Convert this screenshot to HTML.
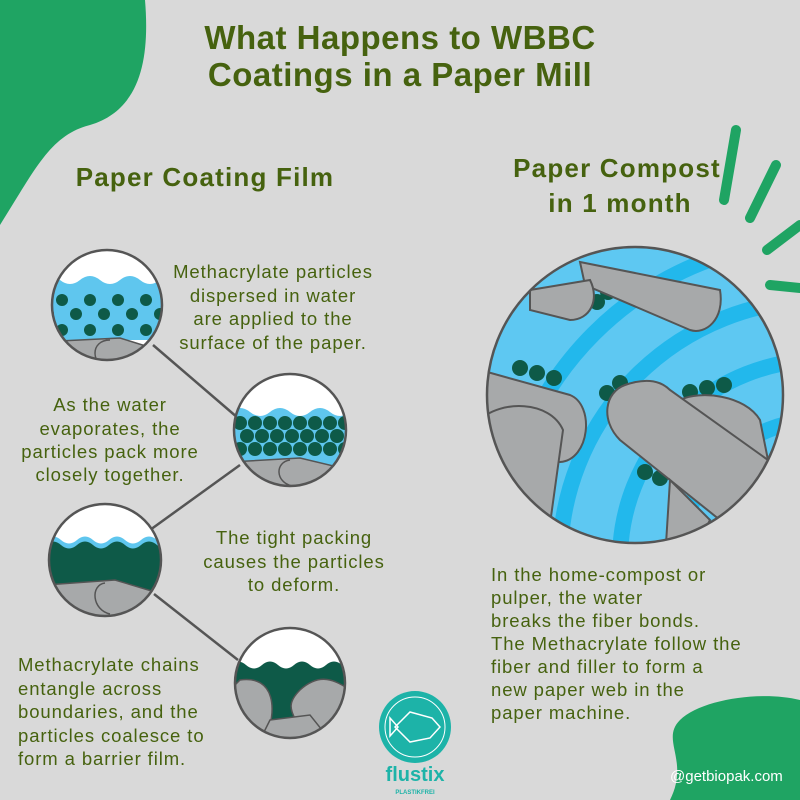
<!DOCTYPE html>
<html><head><meta charset="utf-8"><style>
html,body{margin:0;width:800px;height:800px;background:#d9d9d9;overflow:hidden}
svg{display:block}
text{font-family:"Liberation Sans",sans-serif;fill:#46620f}
.t{font-size:18.5px;letter-spacing:0.9px}
.h{font-weight:bold}
</style></head><body>
<svg width="800" height="800" viewBox="0 0 800 800">
<defs>
<clipPath id="c1"><circle cx="107" cy="305" r="55"/></clipPath>
<clipPath id="c2"><circle cx="290" cy="430" r="56"/></clipPath>
<clipPath id="c3"><circle cx="105" cy="560" r="56"/></clipPath>
<clipPath id="c4"><circle cx="290" cy="683" r="55"/></clipPath>
<clipPath id="cb"><circle cx="635" cy="395" r="148"/></clipPath>
</defs>
<path d="M0 0 L145 0 C150 60 140 110 90 125 C50 135 35 170 0 225 Z" fill="#1fa463"/>
<path d="M800 700 C760 690 700 700 680 720 C660 740 690 760 670 800 L800 800 Z" fill="#1fa463"/>
<g stroke="#1fa463" stroke-width="10" stroke-linecap="round">
<line x1="736" y1="130" x2="724" y2="200"/>
<line x1="776" y1="165" x2="750" y2="218"/>
<line x1="800" y1="225" x2="767" y2="250"/>
<line x1="800" y1="288" x2="770" y2="285"/>
</g>
<text x="400" y="49" text-anchor="middle" class="h" font-size="33" letter-spacing="0.5">What Happens to WBBC</text>
<text x="400" y="86" text-anchor="middle" class="h" font-size="33" letter-spacing="0.5">Coatings in a Paper Mill</text>
<text x="205" y="186" text-anchor="middle" class="h" font-size="26" letter-spacing="1.2">Paper Coating Film</text>
<text x="617" y="177" text-anchor="middle" class="h" font-size="26" letter-spacing="1.2">Paper Compost</text>
<text x="620" y="212" text-anchor="middle" class="h" font-size="26" letter-spacing="1.2">in 1 month</text>
<g stroke="#555" stroke-width="2.5">
<line x1="153" y1="345" x2="238" y2="418"/>
<line x1="240" y1="465" x2="150" y2="530"/>
<line x1="154" y1="594" x2="238" y2="660"/>
</g>
<g clip-path="url(#c1)">
<rect x="40" y="240" width="140" height="140" fill="#fff"/>
<path d="M40 280 q10 -8 20 0 t20 0 t20 0 t20 0 t20 0 t20 0 t20 0 V340 H40Z" fill="#5fc6ee"/>
<g fill="#0e5a48">
<circle cx="62" cy="300" r="6"/><circle cx="90" cy="300" r="6"/><circle cx="118" cy="300" r="6"/><circle cx="146" cy="300" r="6"/>
<circle cx="48" cy="314" r="6"/><circle cx="76" cy="314" r="6"/><circle cx="104" cy="314" r="6"/><circle cx="132" cy="314" r="6"/><circle cx="160" cy="314" r="6"/>
<circle cx="62" cy="330" r="6"/><circle cx="90" cy="330" r="6"/><circle cx="118" cy="330" r="6"/><circle cx="146" cy="330" r="6"/>
</g>
<path d="M40 342 L120 338 L165 352 V380 H40Z" fill="#a7a9aa" stroke="#555" stroke-width="1.5"/>
<path d="M110 340 C90 340 90 365 110 370 L160 375" fill="#a7a9aa" stroke="#555" stroke-width="1.5"/>
</g>
<circle cx="107" cy="305" r="55" fill="none" stroke="#555" stroke-width="2.5"/>
<g clip-path="url(#c2)">
<rect x="230" y="370" width="120" height="120" fill="#fff"/>
<path d="M230 412 q10 -8 20 0 t20 0 t20 0 t20 0 t20 0 t20 0 V470 H230Z" fill="#5fc6ee"/>
<g fill="#0e5a48">
<circle cx="240" cy="423" r="7"/><circle cx="255" cy="423" r="7"/><circle cx="270" cy="423" r="7"/><circle cx="285" cy="423" r="7"/><circle cx="300" cy="423" r="7"/><circle cx="315" cy="423" r="7"/><circle cx="330" cy="423" r="7"/><circle cx="345" cy="423" r="7"/>
<circle cx="247" cy="436" r="7"/><circle cx="262" cy="436" r="7"/><circle cx="277" cy="436" r="7"/><circle cx="292" cy="436" r="7"/><circle cx="307" cy="436" r="7"/><circle cx="322" cy="436" r="7"/><circle cx="337" cy="436" r="7"/>
<circle cx="240" cy="449" r="7"/><circle cx="255" cy="449" r="7"/><circle cx="270" cy="449" r="7"/><circle cx="285" cy="449" r="7"/><circle cx="300" cy="449" r="7"/><circle cx="315" cy="449" r="7"/><circle cx="330" cy="449" r="7"/><circle cx="345" cy="449" r="7"/>
</g>
<path d="M230 462 L300 458 L350 470 V490 H230Z" fill="#a7a9aa" stroke="#555" stroke-width="1.5"/>
<path d="M290 460 C275 462 275 482 292 486" fill="none" stroke="#555" stroke-width="1.5"/>
</g>
<circle cx="290" cy="430" r="56" fill="none" stroke="#555" stroke-width="2.5"/>
<g clip-path="url(#c3)">
<rect x="45" y="500" width="120" height="120" fill="#fff"/>
<path d="M45 540 q8 -7 16 0 t16 0 t16 0 t16 0 t16 0 t16 0 t16 0 t16 0 V560 H45Z" fill="#5fc6ee"/>
<path d="M45 545 q8 -7 16 0 t16 0 t16 0 t16 0 t16 0 t16 0 t16 0 t16 0 V600 H45Z" fill="#0e5a48"/>
<path d="M45 585 L115 580 L165 595 V620 H45Z" fill="#a7a9aa" stroke="#555" stroke-width="1.5"/>
<path d="M105 583 C90 585 92 610 110 614" fill="none" stroke="#555" stroke-width="1.5"/>
</g>
<circle cx="105" cy="560" r="56" fill="none" stroke="#555" stroke-width="2.5"/>
<g clip-path="url(#c4)">
<rect x="230" y="625" width="120" height="120" fill="#fff"/>
<path d="M230 665 q8 -7 16 0 t16 0 t16 0 t16 0 t16 0 t16 0 t16 0 t16 0 V740 H230Z" fill="#0e5a48"/>
<path d="M240 680 C275 675 278 710 265 740 L230 740 V690Z" fill="#a7a9aa" stroke="#555" stroke-width="1.5"/>
<path d="M300 690 C320 672 335 680 350 690 V740 L300 740 C300 715 280 710 300 690Z" fill="#a7a9aa" stroke="#555" stroke-width="1.5"/>
<path d="M270 720 L310 715 L330 740 L260 740Z" fill="#a7a9aa" stroke="#555" stroke-width="1.5"/>
</g>
<circle cx="290" cy="683" r="55" fill="none" stroke="#555" stroke-width="2.5"/>
<g clip-path="url(#cb)">
<rect x="480" y="240" width="310" height="310" fill="#5ec8f2"/>
<g fill="none" stroke="#22b8ec" stroke-width="16">
<circle cx="820" cy="560" r="140"/><circle cx="820" cy="560" r="200"/><circle cx="820" cy="560" r="260"/><circle cx="820" cy="560" r="320"/>
</g>
<g fill="#0e5a48">
<circle cx="520" cy="368" r="8"/><circle cx="537" cy="373" r="8"/><circle cx="554" cy="378" r="8"/>
<circle cx="607" cy="393" r="8"/><circle cx="620" cy="383" r="8"/>
<circle cx="690" cy="392" r="8"/><circle cx="707" cy="388" r="8"/><circle cx="724" cy="385" r="8"/>
<circle cx="597" cy="302" r="8"/><circle cx="608" cy="292" r="8"/>
<circle cx="645" cy="472" r="8"/><circle cx="660" cy="478" r="8"/>
</g>
<path d="M580 262 L720 290 C725 320 705 335 690 330 L585 285Z" fill="#a7a9aa" stroke="#555" stroke-width="2"/>
<path d="M530 290 L590 280 C600 300 590 320 570 320 L530 310Z" fill="#a7a9aa" stroke="#555" stroke-width="2"/>
<path d="M480 370 L570 395 C595 405 590 460 560 462 L480 450Z" fill="#a7a9aa" stroke="#555" stroke-width="2"/>
<path d="M480 420 C500 400 550 400 563 430 L545 560 L480 560Z" fill="#a7a9aa" stroke="#555" stroke-width="2"/>
<path d="M680 400 C700 390 745 395 760 420 L770 470 L700 430Z" fill="#a7a9aa" stroke="#555" stroke-width="2"/>
<path d="M625 385 C645 378 660 380 670 390 L775 465 L720 520 L620 440 C600 420 605 392 625 385Z" fill="#a7a9aa" stroke="#555" stroke-width="2"/>
<path d="M670 480 L710 520 L690 560 L665 560Z" fill="#a7a9aa" stroke="#555" stroke-width="2"/>
</g>
<circle cx="635" cy="395" r="148" fill="none" stroke="#555" stroke-width="2.5"/>
<g class="t" text-anchor="middle">
<text x="273" y="278">Methacrylate particles</text>
<text x="273" y="302">dispersed in water</text>
<text x="273" y="325">are applied to the</text>
<text x="273" y="349">surface of the paper.</text>
<text x="110" y="411">As the water</text>
<text x="110" y="435">evaporates, the</text>
<text x="110" y="458">particles pack more</text>
<text x="110" y="481">closely together.</text>
<text x="294" y="544">The tight packing</text>
<text x="294" y="568">causes the particles</text>
<text x="294" y="591">to deform.</text>
</g>
<g class="t">
<text x="18" y="671">Methacrylate chains</text>
<text x="18" y="695">entangle across</text>
<text x="18" y="718">boundaries, and the</text>
<text x="18" y="742">particles coalesce to</text>
<text x="18" y="765">form a barrier film.</text>
<text x="491" y="581">In the home-compost or</text>
<text x="491" y="604">pulper, the water</text>
<text x="491" y="627">breaks the fiber bonds.</text>
<text x="491" y="650">The Methacrylate follow the</text>
<text x="491" y="673">fiber and filler to form a</text>
<text x="491" y="696">new paper web in the</text>
<text x="491" y="719">paper machine.</text>
</g>
<circle cx="415" cy="727" r="36" fill="#1db3a8"/>
<circle cx="415" cy="727" r="30" fill="none" stroke="#fff" stroke-width="1"/>
<path d="M395 727 L410 712 L432 718 L440 727 L430 738 L410 742Z M390 718 L398 727 L390 736Z" fill="none" stroke="#fff" stroke-width="1.5"/>
<text x="415" y="781" text-anchor="middle" style="fill:#1db3a8;font-weight:bold;font-size:20px">flustix</text>
<text x="415" y="794" text-anchor="middle" style="fill:#1db3a8;font-weight:bold;font-size:6px">PLASTIKFREI</text>
<text x="670" y="781" style="fill:#fff;font-size:15px">@getbiopak.com</text>
</svg>
</body></html>
